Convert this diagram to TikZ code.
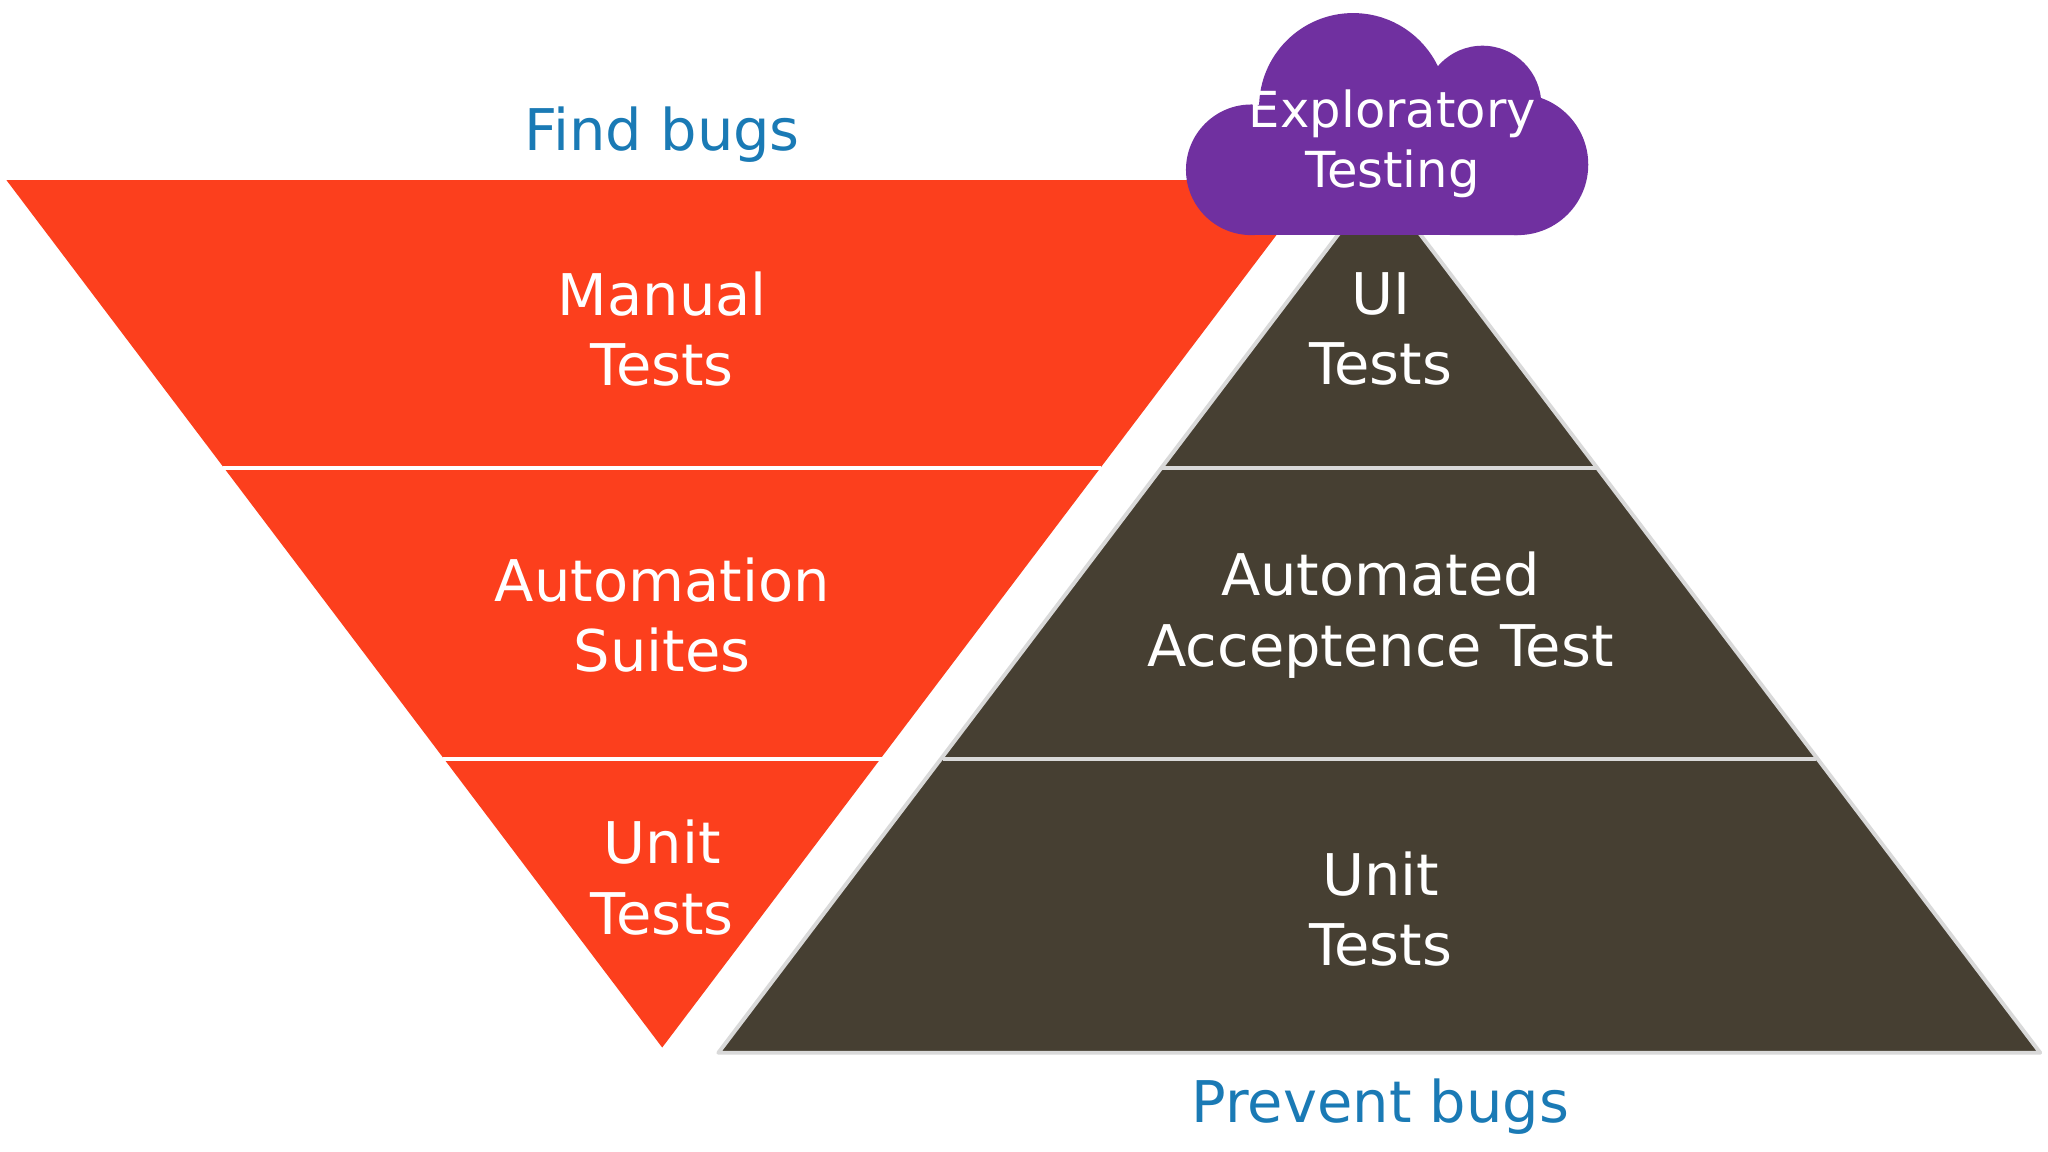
\documentclass[tikz,border=0pt]{standalone}
\usepackage{fontspec}
\setmainfont{DejaVu Sans}
\definecolor{org}{HTML}{FC3F1D}
\definecolor{drk}{HTML}{463F32}
\definecolor{prp}{HTML}{7030A0}
\definecolor{blu}{HTML}{1A7AB5}
\definecolor{lg}{HTML}{D9D9D9}
\begin{document}
\begin{tikzpicture}[x=1pt,y=-1pt,
  lbl/.style={text=white,align=center,font=\fontsize{44}{54}\selectfont},
  ttl/.style={text=blu,font=\fontsize{44}{54}\selectfont}]
\useasboundingbox (0,0) rectangle (1568,882);
\fill[white] (0,0) rectangle (1568,882);
% inverted triangle
\fill[org] (5,138) -- (1009,138) -- (507,802) -- cycle;
\draw[white,line width=3] (171,358) -- (843,358);
\draw[white,line width=3] (339,581) -- (675,581);
% pyramid
\fill[drk,draw=lg,line width=3,line join=round] (1056,138) -- (1562,806) -- (550,806) -- cycle;
\draw[lg,line width=3] (890,358) -- (1222,358);
\draw[lg,line width=3] (722,581) -- (1390,581);
% cloud
\fill[prp] (1036,82) circle (72);
\fill[prp] (1135,80) circle (45);
\fill[prp] (958,130) circle (50);
\fill[prp] (1162,126) circle (54);
\fill[prp] (958,110) rectangle (1150,180);
\fill[prp] (1110,180) arc (90:0:0) -- (1162,180) -- (1162,126) -- (1110,126) -- cycle;
\node[text=white,align=center,font=\fontsize{38}{46}\selectfont] (cl) at (1066,110) {Exploratory\\Testing};
% labels
\node[lbl] (m) at (507,252) {Manual\\Tests};
\node[lbl] (a) at (507,471) {Automation\\Suites};
\node[lbl] (u) at (507,672) {Unit\\Tests};
\node[lbl] (ui) at (1057,252) {UI\\Tests};
\node[lbl] (aa) at (1057,471) {Automated\\Acceptence Test};
\node[lbl] (ut) at (1057,696) {Unit\\Tests};
\node[ttl] (fb) at (507,103) {Find bugs};
\node[ttl] (pb) at (1057,847) {Prevent bugs};
\end{tikzpicture}
\end{document}
